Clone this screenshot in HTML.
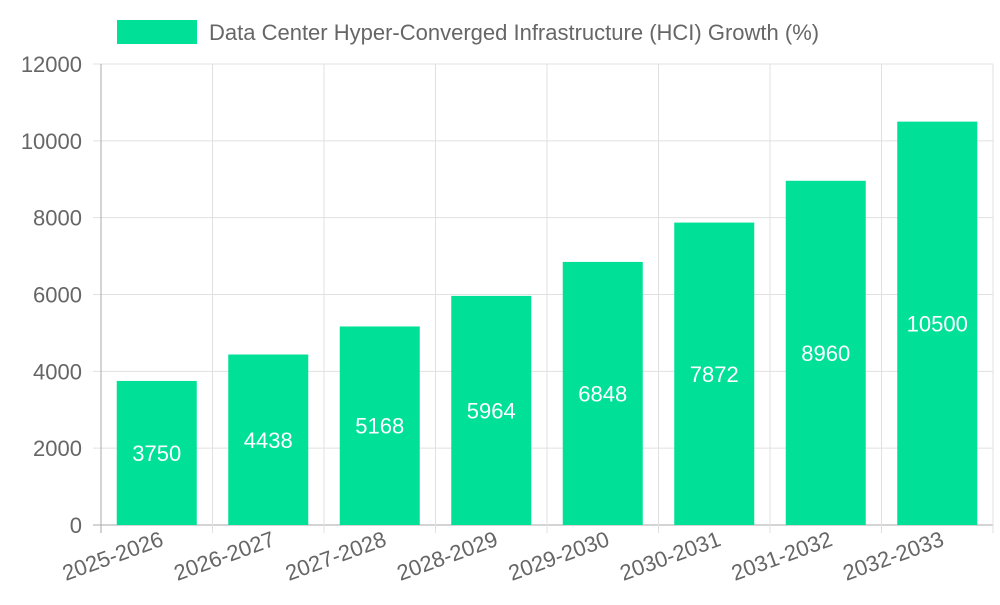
<!DOCTYPE html>
<html><head><meta charset="utf-8"><style>
body{margin:0;background:#fff}
svg text{font-family:"Liberation Sans",sans-serif}
</style></head><body>
<svg id="c" width="1000" height="600">
<g>
<rect x="117" y="20" width="80" height="24" fill="#00e096"/>
<text x="209" y="40" font-size="22" fill="#666">Data Center Hyper-Converged Infrastructure (HCI) Growth (%)</text>
</g>
</svg>
<script>
const categories=["2025-2026","2026-2027","2027-2028","2028-2029","2029-2030","2030-2031","2031-2032","2032-2033"];
const values=[3750,4438,5168,5964,6848,7872,8960,10500];
const yTicks=[0,2000,4000,6000,8000,10000,12000];
const svg=document.getElementById('c');const NS='http://www.w3.org/2000/svg';
const L=101,R=993,T=64,B=525,yMax=12000;
const bw=(R-L)/categories.length;
const y=v=>B-v/yMax*(B-T);
const x=i=>L+bw*i;
function mk(t,a,p){const e=document.createElementNS(NS,t);for(const k in a)e.setAttribute(k,a[k]);(p||svg).appendChild(e);return e;}
const grid=mk('g',{});


yTicks.forEach(t=>{
 const l=mk('line',{x1:93,x2:R,y1:y(t),y2:y(t),stroke:t===0?'#aaa':'#e0e0e0','stroke-width':1},grid);
 
 
 const tx=mk('text',{x:82,y:y(t)+8,'text-anchor':'end','font-size':22,fill:'#666'});
 tx.textContent=t;
 
 
});
for(let i=0;i<=categories.length;i++){
 const l=mk('line',{x1:x(i),x2:x(i),y1:T,y2:B+8,stroke:i===0?'#aaa':'#e0e0e0','stroke-width':1},grid);
 
 
}
categories.forEach((c,i)=>{
 const cx=x(i)+bw/2,w=80;
 const r=mk('rect',{x:cx-w/2,y:y(values[i]),width:w,height:B-y(values[i]),fill:'#00e096'});
 
 
 const v=mk('text',{x:cx,y:(y(values[i])+B)/2+8,'text-anchor':'middle','font-size':22,fill:'#fff'});
 v.textContent=values[i];
 
 
 const tx=mk('text',{x:cx+8,y:B+20,'text-anchor':'end','font-size':22,fill:'#666',transform:`rotate(-20 ${cx+8} ${B+20})`});
 tx.textContent=c;
 
 
});
</script>
</body></html>
